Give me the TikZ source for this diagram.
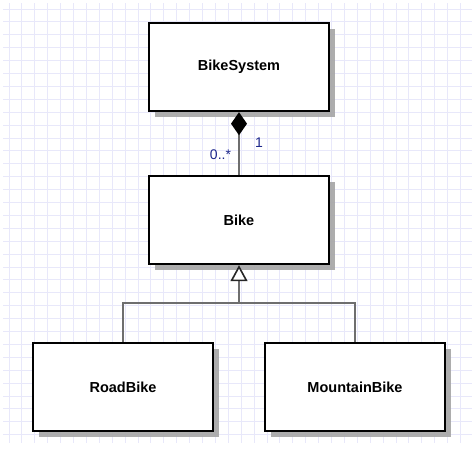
\documentclass[tikz,border=0pt]{standalone}
\usepackage{fontspec}
\setmainfont{Liberation Sans}
\usetikzlibrary{arrows.meta,shadows}
\definecolor{gridc}{RGB}{232,232,250}
\definecolor{linec}{RGB}{110,110,110}
\definecolor{labc}{RGB}{30,40,140}
\definecolor{shadc}{RGB}{165,165,165}
\tikzset{
  classbox/.style={draw=black, line width=2.4pt, fill=white, minimum width=180pt, minimum height=88pt,
    inner sep=0pt, font=\fontsize{14.5}{17}\selectfont\bfseries,
    drop shadow={shadow xshift=5.5pt, shadow yshift=-5.5pt, fill=shadc, opacity=0.9}},
  conn/.style={draw=linec, line width=2pt},
  mult/.style={font=\fontsize{14}{16}\selectfont, text=labc, inner sep=0pt}
}
\begin{document}
\begin{tikzpicture}[x=1pt,y=-1pt]
\useasboundingbox (0,0) rectangle (472,448);
\fill[white] (0,0) rectangle (472,448);
% grid
\foreach \i in {0,...,36} {
  \draw[gridc, line width=1pt] ({9+12.9*\i},3) -- ({9+12.9*\i},443);
}
\foreach \j in {0,...,33} {
  \draw[gridc, line width=1pt] (3,{9+12.9*\j}) -- (472,{9+12.9*\j});
}
% classes
\node[classbox] (sys) at (239,67) {BikeSystem};
\node[classbox] (bike) at (239,220) {Bike};
\node[classbox] (road) at (123,387) {RoadBike};
\node[classbox] (mtb) at (355,387) {MountainBike};
% composition
\draw[conn, {Diamond[width=16pt,length=23pt,fill=black,color=black]}-] (sys.south) -- (bike.north);
\node[mult] (one) at (259,143) {1};
\node[mult] (many) at (220.5,155) {0..*};
% generalization
\coordinate (bus) at (239,303);
\draw[conn] (road.north) |- (bus) -| (mtb.north);
\draw[conn, -{Triangle[open, width=17pt, length=16pt, line width=1.6pt, color=black!85, fill=white]}] (bus) -- (bike.south);
\end{tikzpicture}
\end{document}
